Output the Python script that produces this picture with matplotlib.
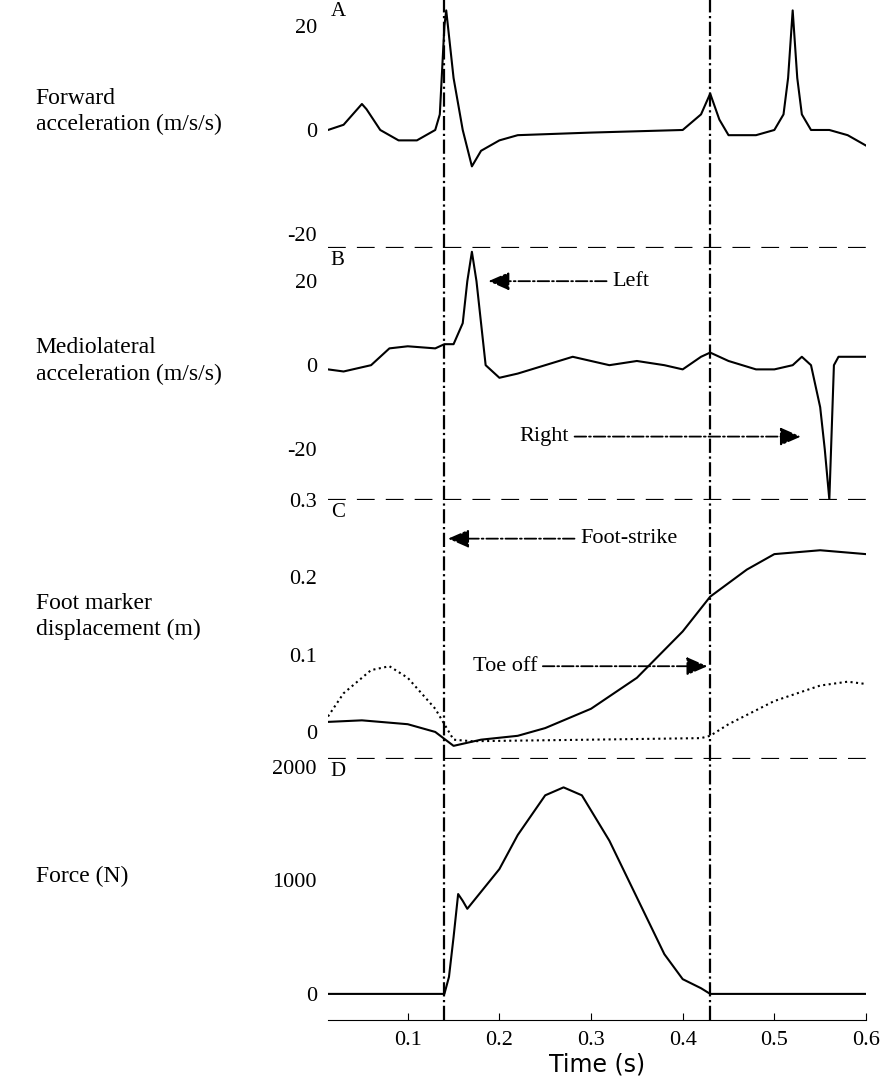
import matplotlib
matplotlib.use("Agg")
import matplotlib.pyplot as plt

tA = [0.013,0.03,0.045,0.05,0.055,0.07,0.09,0.11,0.13,0.135,0.14,0.142,0.15,0.16,0.17,0.18,0.2,0.22,0.3,0.4,0.42,0.43,0.44,0.45,0.48,0.5,0.51,0.515,0.52,0.525,0.53,0.54,0.56,0.58,0.6]
yA = [0,1,4,5,4,0,-2,-2,0,3,20,23,10,0,-7,-4,-2,-1,-0.5,0,3,7,2,-1,-1,0,3,10,23,10,3,0,0,-1,-3]
tB = [0.013,0.03,0.06,0.08,0.1,0.13,0.14,0.15,0.16,0.165,0.17,0.175,0.18,0.185,0.2,0.22,0.25,0.28,0.3,0.32,0.35,0.38,0.4,0.42,0.43,0.45,0.48,0.5,0.52,0.53,0.54,0.55,0.555,0.56,0.565,0.57,0.6]
yB = [-1,-1.5,0,4,4.5,4,5,5,10,20,27,20,10,0,-3,-2,0,2,1,0,1,0,-1,2,3,1,-1,-1,0,2,0,-10,-20,-32,0,2,2]
tC = [0.013,0.05,0.1,0.13,0.15,0.18,0.22,0.25,0.3,0.35,0.4,0.43,0.47,0.5,0.55,0.6]
yC = [0.013,0.015,0.01,0,-0.018,-0.01,-0.005,0.005,0.03,0.07,0.13,0.175,0.21,0.23,0.235,0.23]
tC2 = [0.013,0.03,0.06,0.08,0.1,0.13,0.15,0.17,0.3,0.42,0.43,0.45,0.5,0.55,0.58,0.6]
yC2 = [0.02,0.05,0.08,0.085,0.07,0.03,-0.01,-0.012,-0.01,-0.008,-0.005,0.01,0.04,0.06,0.065,0.062]
tD = [0.013,0.14,0.145,0.15,0.155,0.16,0.165,0.17,0.18,0.2,0.22,0.25,0.27,0.29,0.32,0.35,0.38,0.4,0.42,0.43,0.6]
yD = [0,0,150,500,880,820,750,800,900,1100,1400,1750,1820,1750,1350,850,350,130,50,0,0]

serif = "Liberation Serif"
fig = plt.figure(figsize=(8.9, 10.84), dpi=100)
L, R = 328/890, 866/890
edges = [0, 248, 500, 759, 1020]
specs = [
    ("A", (-22.7, 25), [-20, 0, 20], ["-20", "0", "20"], "Forward\nacceleration (m/s/s)"),
    ("B", (-32.1, 27.9), [-20, 0, 20], ["-20", "0", "20"], "Mediolateral\nacceleration (m/s/s)"),
    ("C", (-0.035, 0.3), [0, 0.1, 0.2, 0.3], ["0", "0.1", "0.2", "0.3"], "Foot marker\ndisplacement (m)"),
    ("D", (-230, 2070), [0, 1000, 2000], ["0", "1000", "2000"], "Force (N)"),
]
axes = []
for i, (let, ylim, yt, ytl, lab) in enumerate(specs):
    y0 = 1 - edges[i+1]/1084
    h = (edges[i+1]-edges[i])/1084
    ax = fig.add_axes([L, y0, R-L, h])
    ax.set_xlim(0.013, 0.6)
    ax.set_ylim(*ylim)
    ax.set_yticks(yt)
    ax.set_yticklabels(ytl, fontfamily=serif, fontsize=16)
    ax.tick_params(length=0, pad=8)
    for s in ax.spines.values():
        s.set_visible(False)
    ax.text(0.005, 0.99, let, transform=ax.transAxes, va="top", ha="left", fontfamily=serif, fontsize=15)
    ax.axvline(0.14, color="k", ls="-.", lw=1.6)
    ax.axvline(0.43, color="k", ls="-.", lw=1.6)
    if i < 3:
        ax.axhline(ylim[0], color="k", ls=(0, (8, 5)), lw=1.6, clip_on=False)
        ax.set_xticks([])
    fig.text(0.04, y0 + h*0.55, lab, fontfamily=serif, fontsize=17, va="center", ha="left", linespacing=1.35)
    axes.append(ax)

axA, axB, axC, axD = axes
axA.plot(tA, yA, color="k", lw=1.5)
axB.plot(tB, yB, color="k", lw=1.5)
axC.plot(tC, yC, color="k", lw=1.5)
axC.plot(tC2, yC2, color="k", lw=1.5, ls=":")
axD.plot(tD, yD, color="k", lw=1.5)

ap = dict(arrowstyle="-|>,head_length=0.8,head_width=0.35", linestyle="-.", color="k", lw=1.3)
axB.annotate("Left", xy=(0.185, 20), xytext=(0.323, 20), va="center", ha="left", fontfamily=serif, fontsize=16, arrowprops=ap)
axB.annotate("Right", xy=(0.532, -17), xytext=(0.222, -17), va="center", ha="left", fontfamily=serif, fontsize=16, arrowprops=ap)
axC.annotate("Foot-strike", xy=(0.141, 0.25), xytext=(0.288, 0.25), va="center", ha="left", fontfamily=serif, fontsize=16, arrowprops=ap)
axC.annotate("Toe off", xy=(0.43, 0.085), xytext=(0.171, 0.085), va="center", ha="left", fontfamily=serif, fontsize=16, arrowprops=ap)

axD.spines["bottom"].set_visible(True)
axD.set_xticks([0.1, 0.2, 0.3, 0.4, 0.5, 0.6])
axD.set_xticklabels(["0.1", "0.2", "0.3", "0.4", "0.5", "0.6"], fontfamily=serif, fontsize=16)
axD.tick_params(axis="x", length=5, direction="in", pad=8)
axD.set_xlabel("Time (s)", fontsize=17, labelpad=2)
fig.savefig("out.png", dpi=100)
